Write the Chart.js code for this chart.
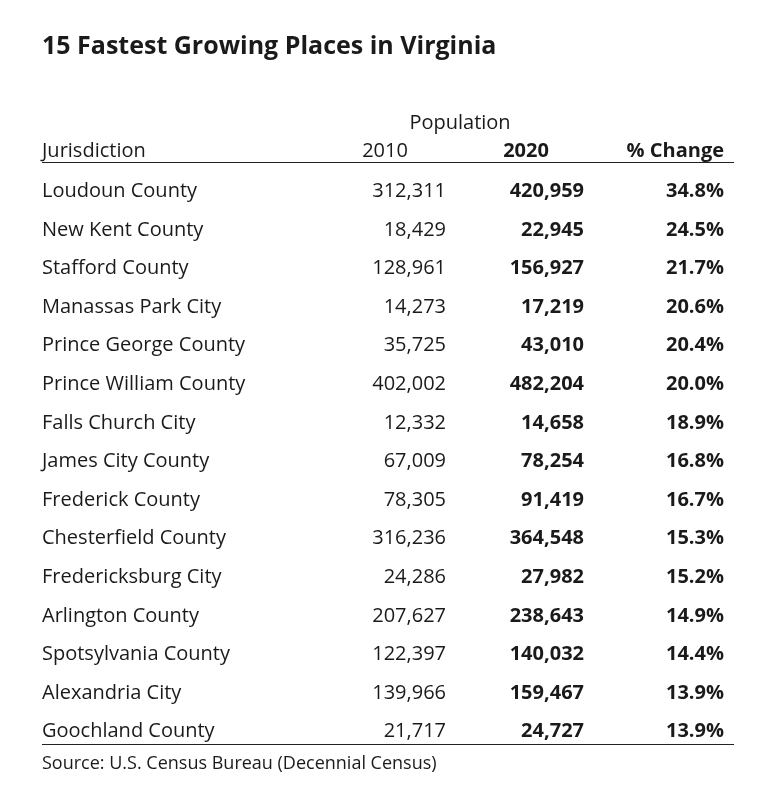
<!DOCTYPE html>
<html><head><meta charset="utf-8">
<script src="https://cdn.jsdelivr.net/npm/chart.js"></script>
<style>html,body{margin:0;padding:0;background:#fff}#w{width:768px;height:797px}</style>
</head><body><div id="w"><canvas id="c"></canvas></div>
<script>
const jurisdictions=["Loudoun County","New Kent County","Stafford County","Manassas Park City","Prince George County","Prince William County","Falls Church City","James City County","Frederick County","Chesterfield County","Fredericksburg City","Arlington County","Spotsylvania County","Alexandria City","Goochland County"];
const pop2010=[312311,18429,128961,14273,35725,402002,12332,67009,78305,316236,24286,207627,122397,139966,21717];
const pop2020=[420959,22945,156927,17219,43010,482204,14658,78254,91419,364548,27982,238643,140032,159467,24727];
const pctChange=[34.8,24.5,21.7,20.6,20.4,20.0,18.9,16.8,16.7,15.3,15.2,14.9,14.4,13.9,13.9];
const fmt=n=>n.toLocaleString('en-US');
const F='"Open Sans", sans-serif';
const tablePlugin={id:'tbl',afterDraw(chart){
  const ctx=chart.ctx, y=chart.scales.y;
  ctx.save(); ctx.fillStyle='#1a1a1a'; ctx.textBaseline='middle';
  ctx.font='bold 25px '+F; ctx.textAlign='left'; ctx.fillText('15 Fastest Growing Places in Virginia',42,47);
  ctx.font='20px '+F; ctx.textAlign='center'; ctx.fillText('Population',460,123);
  ctx.textAlign='left'; ctx.fillText('Jurisdiction',42,151);
  ctx.textAlign='center'; ctx.fillText('2010',385,151);
  ctx.font='bold 20px '+F; ctx.fillText('2020',526,151);
  ctx.textAlign='right'; ctx.fillText('% Change',724,151);
  jurisdictions.forEach((j,i)=>{
    const py=y.getPixelForValue(i);
    ctx.font='20px '+F; ctx.textAlign='left'; ctx.fillText(j,42,py);
    ctx.textAlign='right'; ctx.fillText(fmt(pop2010[i]),446,py);
    ctx.font='bold 20px '+F; ctx.fillText(fmt(pop2020[i]),584,py);
    ctx.fillText(pctChange[i].toFixed(1)+'%',724,py);
  });
  ctx.font='18px '+F; ctx.textAlign='left'; ctx.fillText('Source: U.S. Census Bureau (Decennial Census)',42,764);
  ctx.strokeStyle='#222'; ctx.lineWidth=1;
  ctx.beginPath(); ctx.moveTo(42,162.5); ctx.lineTo(734,162.5); ctx.stroke();
  ctx.beginPath(); ctx.moveTo(42,744.5); ctx.lineTo(734,744.5); ctx.stroke();
  ctx.restore();
}};
new Chart(document.getElementById('c'),{
  type:'scatter',
  data:{datasets:[{data:pctChange.map((v,i)=>({x:v,y:i})),pointRadius:0,showLine:false}]},
  options:{responsive:true,maintainAspectRatio:false,animation:false,
    layout:{padding:{top:172,bottom:46,left:0,right:0}},
    plugins:{legend:{display:false},tooltip:{enabled:false}},
    scales:{x:{display:false,min:0,max:40},y:{display:false,min:-0.5,max:14.5,reverse:true}}},
  plugins:[tablePlugin]
});
</script></body></html>
